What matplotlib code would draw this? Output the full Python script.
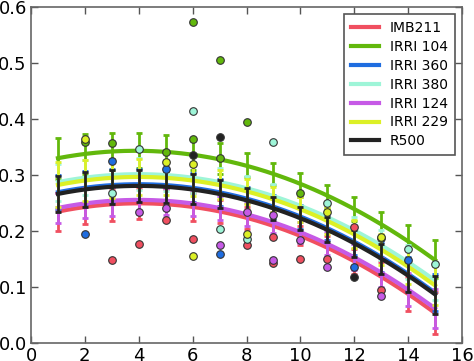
import numpy as np
import matplotlib
matplotlib.use('Agg')
import matplotlib.pyplot as plt

# days (x positions of the error bars)
days = np.arange(1, 16)

names = ['IMB211', 'IRRI 104', 'IRRI 360', 'IRRI 380', 'IRRI 124', 'IRRI 229', 'R500']
colors = ['#f04f60', '#62b80c', '#1f6de0', '#9ef5d8', '#c65ae6', '#dcf026', '#222222']

# mean values per day
mean_imb211 = [0.235, 0.244, 0.248, 0.250, 0.248, 0.244, 0.235, 0.224, 0.210, 0.192, 0.171, 0.146, 0.119, 0.088, 0.054]
mean_irri104 = [0.330, 0.338, 0.342, 0.344, 0.342, 0.338, 0.330, 0.318, 0.302, 0.283, 0.262, 0.240, 0.212, 0.182, 0.150]
mean_irri360 = [0.270, 0.278, 0.282, 0.284, 0.282, 0.278, 0.270, 0.258, 0.244, 0.226, 0.206, 0.182, 0.154, 0.124, 0.090]
mean_irri380 = [0.288, 0.296, 0.300, 0.302, 0.300, 0.296, 0.288, 0.277, 0.263, 0.245, 0.225, 0.202, 0.175, 0.145, 0.112]
mean_irri124 = [0.242, 0.250, 0.254, 0.256, 0.254, 0.250, 0.242, 0.230, 0.216, 0.198, 0.178, 0.154, 0.126, 0.096, 0.062]
mean_irri229 = [0.283, 0.291, 0.295, 0.297, 0.295, 0.291, 0.283, 0.271, 0.257, 0.239, 0.219, 0.195, 0.167, 0.137, 0.103]
mean_r500 = [0.267, 0.275, 0.279, 0.281, 0.279, 0.275, 0.267, 0.255, 0.241, 0.223, 0.203, 0.179, 0.151, 0.121, 0.087]

# standard deviations per day
sd_imb211 = [0.034, 0.031, 0.030, 0.028, 0.028, 0.025, 0.021, 0.020, 0.019, 0.017, 0.020, 0.022, 0.026, 0.030, 0.037]
sd_irri104 = [0.037, 0.035, 0.033, 0.031, 0.030, 0.029, 0.027, 0.021, 0.020, 0.021, 0.021, 0.021, 0.023, 0.029, 0.034]
sd_irri360 = [0.031, 0.030, 0.029, 0.028, 0.027, 0.026, 0.024, 0.022, 0.021, 0.021, 0.022, 0.024, 0.027, 0.030, 0.033]
sd_irri380 = [0.033, 0.031, 0.030, 0.029, 0.028, 0.027, 0.025, 0.022, 0.021, 0.021, 0.022, 0.024, 0.027, 0.030, 0.034]
sd_irri124 = [0.027, 0.027, 0.026, 0.025, 0.024, 0.023, 0.021, 0.020, 0.019, 0.019, 0.021, 0.023, 0.026, 0.030, 0.035]
sd_irri229 = [0.040, 0.037, 0.035, 0.032, 0.030, 0.028, 0.026, 0.023, 0.022, 0.022, 0.023, 0.025, 0.028, 0.031, 0.035]
sd_r500 = [0.032, 0.031, 0.030, 0.029, 0.028, 0.027, 0.025, 0.022, 0.021, 0.021, 0.022, 0.024, 0.027, 0.030, 0.034]

# single plant values (circles)
pts_x_imb211 = [3, 4, 5, 6, 8, 9, 9, 10, 11, 12, 13]
pts_y_imb211 = [0.148, 0.177, 0.220, 0.186, 0.175, 0.190, 0.144, 0.150, 0.150, 0.208, 0.095]
pts_x_irri104 = [6, 7, 8, 3, 5, 7, 2, 6, 10, 13]
pts_y_irri104 = [0.573, 0.506, 0.396, 0.357, 0.342, 0.331, 0.360, 0.365, 0.268, 0.188]
pts_x_irri360 = [2, 3, 5, 7, 12, 14]
pts_y_irri360 = [0.196, 0.326, 0.311, 0.159, 0.137, 0.149]
pts_x_irri380 = [6, 9, 4, 7, 8, 11, 14, 15, 3]
pts_y_irri380 = [0.414, 0.359, 0.347, 0.205, 0.186, 0.250, 0.168, 0.141, 0.268]
pts_x_irri124 = [4, 5, 7, 8, 9, 9, 10, 11, 13]
pts_y_irri124 = [0.234, 0.242, 0.175, 0.235, 0.229, 0.149, 0.184, 0.136, 0.085]
pts_x_irri229 = [2, 5, 6, 6, 8, 11, 13]
pts_y_irri229 = [0.365, 0.323, 0.320, 0.156, 0.196, 0.234, 0.190]
pts_x_r500 = [7, 6, 12]
pts_y_r500 = [0.368, 0.336, 0.118]

means = [mean_imb211, mean_irri104, mean_irri360, mean_irri380, mean_irri124, mean_irri229, mean_r500]
sds = [sd_imb211, sd_irri104, sd_irri360, sd_irri380, sd_irri124, sd_irri229, sd_r500]
pts_x = [pts_x_imb211, pts_x_irri104, pts_x_irri360, pts_x_irri380, pts_x_irri124, pts_x_irri229, pts_x_r500]
pts_y = [pts_y_imb211, pts_y_irri104, pts_y_irri360, pts_y_irri380, pts_y_irri124, pts_y_irri229, pts_y_r500]

fig = plt.figure(figsize=(4.74, 3.61), dpi=100)
ax = fig.add_axes([31 / 474, (361 - 343.3) / 361, 431 / 474, 336 / 361])

xs = np.linspace(1, 15, 200)
for name, c, m, s, px, py in zip(names, colors, means, sds, pts_x, pts_y):
    ax.errorbar(days, m, yerr=s, fmt='none', ecolor=c, elinewidth=2,
                capsize=2.5, capthick=2)
    # quadratic fit through the daily means
    coef = np.polyfit(days, m, 2)
    ax.plot(xs, np.polyval(coef, xs), color=c, lw=3, label=name)
    ax.scatter(px, py, s=30, color=c, edgecolors='#333333', linewidths=0.8, zorder=3)

ax.set_xlim(0, 16)
ax.set_ylim(0, 0.6)
ax.set_xticks(np.arange(0, 17, 2))
ax.set_yticks(np.arange(0, 0.61, 0.1))
ax.set_yticklabels(['0.0', '0.1', '0.2', '0.3', '0.4', '0.5', '0.6'])
ax.tick_params(direction='in', top=True, right=True, labelsize=13,
               length=5, width=1, color='#555555', pad=3)
for sp in ax.spines.values():
    sp.set_color('#666666')
    sp.set_linewidth(1.2)

leg = ax.legend(loc='upper right', fontsize=10, fancybox=False, framealpha=1,
                handlelength=2.0, borderaxespad=0.5, labelspacing=0.35,
                borderpad=0.5)
leg.get_frame().set_edgecolor('#555555')
leg.get_frame().set_linewidth(1.2)

fig.savefig('out.png', dpi=100)
